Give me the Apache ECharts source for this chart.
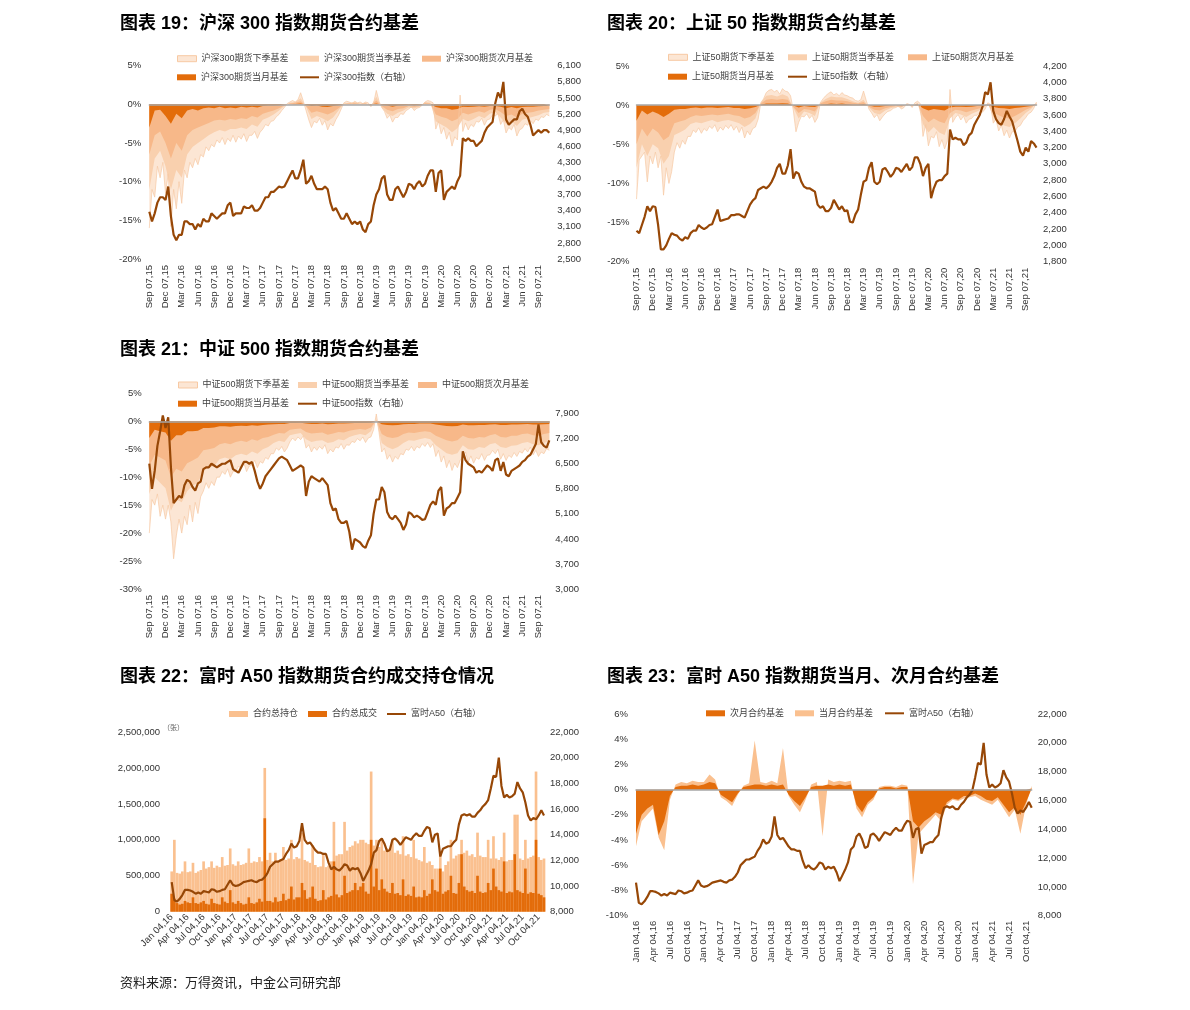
<!DOCTYPE html>
<html><head><meta charset="utf-8">
<script src="https://cdn.jsdelivr.net/npm/echarts/dist/echarts.min.js"></script>
<style>html,body{margin:0;padding:0;background:#fff}#c{width:1190px;height:1010px}</style>
</head><body><div id="c"></div>
<script>
// ---------- DATA ----------
// Chart 19: CSI 300 (basis %, Sep 2015 - Nov 2021). q2 & index semi-monthly; others monthly
const hs_q2 = [-16,-11,-12,-8,-9.5,-7.5,-11.5,-9,
-15.8,-11,-13.5,-10,-12.8,-8.5,-9.5,-7.5,-8.2,-7,-7.8,-6.5,-6.8,-5.5,-6,-5.2,-5.5,-4.6,-5,-4.3,-5.2,-4.4,-4.8,-4,
-4.9,-4.1,-4.5,-3.8,-4.8,-4,-4,-3.5,-4.4,-3.6,-3.2,-2.6,-2.8,-2.2,-2.1,-1.6,-1.3,-0.8,-0.4,0.1,0.3,0.5,0.3,0.6,
1.5,0.4,-0.8,-2,-3,-2.2,-2.4,-1.8,-2.7,-2.1,-3.3,-2.5,-2.8,-2,-1.4,-0.6,0.2,0.4,0.3,0.1,0.4,0.2,0.3,0.1,
0.3,0.2,-0.3,0.2,1.8,0.4,-0.4,-0.9,-1.8,-1.4,-2.3,-1.7,-1.7,-1.2,-1.3,-0.8,-0.6,-0.3,-0.8,-0.5,-0.4,-0.1,0.3,0.5,
0.4,0.2,-3.2,-2.2,-3.8,-3,-4.5,-3.6,-5.4,-4.2,-4.6,1.2,-3.5,-2.4,-3.3,-2.6,-2.9,-2.2,-2.3,-1.8,-2.7,-2,-1.9,-1.4,
-1.5,-1.2,-2.6,-2,-3.7,-3,-3.3,-2.6,-4.1,-3.3,-3.1,-2.5,-2.7,-2.1,-2.5,-1.9,-2.1,-1.6,-1.7,-1.3,-1.5];
const hs_q1 = [-11,-7,-6,-8,-11,-8.5,-9.5,-6.5,-5.5,-5,-4.5,-4,-3.6,-3.3,-3.5,-3.2,-3.2,-3,-3.2,-2.6,-2.9,-2,-1.7,-1.3,-0.8,-0.2,0.2,0.3,0.8,-0.3,-1.9,-1.5,-1.8,-2.2,-1.7,-0.8,0.1,0.2,0.3,0.1,0.2,-0.2,1,-0.4,-1.2,-1.5,-1.1,-0.8,-0.4,-0.5,-0.3,0.3,0.2,-2.2,-2.6,-3,-3.6,-3.1,-1.9,-2.2,-1.9,-1.5,-1.8,-1.2,-1,-1.7,-2.5,-2.2,-2.8,-2,-1.8,-1.6,-1.4,-1.1,-1];
const hs_m1 = [-6.5,-4,-3.5,-5,-7,-5,-6,-4,-3.3,-3,-2.7,-2.4,-2.1,-2,-2.1,-1.9,-2,-1.8,-1.9,-1.5,-1.7,-1.2,-1,-0.8,-0.5,-0.1,0.1,0.2,0.4,-0.2,-1.1,-0.9,-1.1,-1.3,-1,-0.5,0.05,0.1,0.15,0.05,0.1,-0.1,0.5,-0.2,-0.7,-0.9,-0.6,-0.5,-0.2,-0.3,-0.2,0.15,0.1,-1.3,-1.6,-1.8,-2.2,-1.9,-1.1,-1.3,-1.1,-0.9,-1.1,-0.7,-0.6,-1,-1.5,-1.3,-1.7,-1.2,-1.1,-1,-0.8,-0.7,-0.6];
const hs_m0 = [-3,-0.8,-0.7,-1.5,-2.5,-1.2,-1.8,-0.8,-0.6,-0.8,-0.5,-0.4,-0.5,-0.3,-0.5,-0.4,-0.5,-0.3,-0.4,-0.3,-0.4,-0.2,-0.15,-0.15,-0.1,0,0.03,0.05,0.1,-0.05,-0.2,-0.15,-0.3,-0.35,-0.2,-0.1,0,0.03,0.03,0,0.03,-0.03,0.1,-0.05,-0.15,-0.3,-0.15,-0.1,-0.05,-0.1,-0.05,0.03,0.03,-0.35,-0.5,-0.5,-0.7,-0.6,-0.3,-0.35,-0.3,-0.25,-0.3,-0.2,-0.2,-0.3,-0.5,-0.35,-0.5,-0.35,-0.3,-0.3,-0.25,-0.2,-0.2];
const hs_idx = [3380,3200,3350,3550,3650,3650,3600,3850,
3300,2950,2850,2950,2950,3200,3200,3150,3150,3050,3150,3100,3250,3200,3200,3350,3300,3250,3300,3350,3350,3500,3550,3300,
3350,3350,3350,3480,3450,3450,3500,3400,3400,3450,3550,3650,3650,3750,3750,3800,3850,3830,3850,3950,4050,4150,4000,4000,
4150,4350,3900,3950,4050,3900,3800,3800,3800,3850,3800,3550,3400,3450,3350,3250,3250,3350,3250,3150,3200,3150,3200,3050,
3000,3150,3200,3500,3700,3800,4000,4050,3700,3600,3600,3800,3850,3750,3650,3750,3900,3880,3800,3900,3950,3850,3900,4050,
4150,4150,3750,4100,4150,3600,3750,3800,3850,3800,3950,4050,4750,4700,4750,4700,4700,4600,4650,4700,4850,4950,5000,5050,
5400,5600,5500,5800,5100,5000,5050,5100,5100,5250,5300,5200,5150,5000,4800,4850,4900,4850,4900,4900,4850];

// Chart 20: SSE 50
const sz_q2 = [-12,-7,-6.5,-6,-9.8,-6.5,-7.5,-6,
-8,-6.5,-11.5,-8,-10,-8.5,-6,-4.8,-5.5,-4.5,-5,-4,-4,-3.2,-3.5,-2.9,-3.6,-3,-3.3,-2.7,-3,-2.5,-3.4,-2.8,
-3.2,-2.6,-3,-2.5,-3.2,-2.7,-3.5,-2.8,-4.2,-3.3,-3.8,-3,-2.8,-1.8,0.3,0.8,1.6,1.9,2,1.7,1.9,1.4,2.1,1.8,
1.7,1.2,-0.6,-3.4,-2.2,-1.4,-1.5,-1.1,-1.7,-1.3,-2.2,-1.6,0.3,0.8,1.2,1.5,1.7,1.3,1.5,1.2,1.6,1.3,1.2,1,
0.9,0.6,0.5,0.7,1.8,0.6,-0.5,-1,-1.6,-1.2,-2,-1.5,-1.1,-0.8,-0.7,-0.4,-0.3,-0.1,-0.5,-0.3,0.2,0.1,-0.3,0.3,
0.5,0.2,-4,-2.5,-5.2,-4,-4.2,-3.4,-5.3,-4.4,-5.6,-4.6,2,-2.2,-1.6,-1.2,-1.9,-1.4,-2.3,-1.8,-1.7,-1.3,-1.3,-0.9,
-0.9,-0.5,0.3,0.1,-2.3,-1.8,-3.3,-2.6,-3.9,-3.2,-4.2,-3.4,-3.4,-2.8,-2.6,-2,-1.6,-1.1,-0.9,-0.4,0.4];
const sz_q1 = [-8,-5,-6.5,-5,-5.5,-7.5,-6.5,-3.8,-3.5,-3.1,-2.4,-2.2,-2.3,-2.1,-1.9,-2.2,-2,-1.9,-2.1,-2.3,-2.8,-2.4,-1.7,0.3,1.2,1.3,1.1,1.4,1.1,-0.3,-1.7,-0.8,-1,-1.4,0.3,0.8,1.1,1,1,0.8,0.5,0.3,0.7,-0.3,-1,-1.2,-0.7,-0.4,-0.2,-0.3,0.1,-0.2,0.3,-2.4,-3.5,-2.8,-3.5,-3.8,-1.7,-1,-1.2,-1.5,-1.1,-0.8,-0.5,0.2,-1.5,-2.2,-2.6,-2.8,-2.3,-1.7,-1,-0.5,0.3];
const sz_m1 = [-5,-3,-4,-3,-3.5,-4.5,-4,-2.3,-2.1,-1.9,-1.5,-1.3,-1.4,-1.3,-1.2,-1.3,-1.2,-1.1,-1.3,-1.4,-1.7,-1.5,-1,0.2,0.7,0.8,0.7,0.8,0.7,-0.2,-1,-0.5,-0.6,-0.8,0.2,0.5,0.7,0.6,0.6,0.5,0.3,0.2,0.4,-0.2,-0.6,-0.7,-0.4,-0.25,-0.1,-0.2,0.05,-0.1,0.2,-1.4,-2.2,-1.7,-2.1,-2.3,-1,-0.6,-0.7,-0.9,-0.7,-0.5,-0.3,0.1,-0.9,-1.3,-1.6,-1.7,-1.4,-1,-0.6,-0.3,0.2];
const sz_m0 = [-2,-0.7,-1.2,-0.8,-1.1,-1.5,-1.1,-0.6,-0.5,-0.5,-0.35,-0.3,-0.4,-0.3,-0.3,-0.35,-0.3,-0.25,-0.35,-0.35,-0.5,-0.4,-0.25,0.05,0.2,0.2,0.2,0.25,0.2,-0.05,-0.3,-0.1,-0.2,-0.25,0.05,0.1,0.2,0.15,0.2,0.1,0.05,0.05,0.1,-0.05,-0.2,-0.2,-0.1,-0.05,0,-0.05,0,0,0.05,-0.4,-0.7,-0.5,-0.6,-0.7,-0.3,-0.2,-0.2,-0.25,-0.2,-0.1,-0.1,0.03,-0.25,-0.35,-0.4,-0.5,-0.35,-0.3,-0.2,-0.1,0.05];
const sz_idx = [2180,2150,2250,2350,2480,2420,2480,2470,
2250,1950,1950,2000,2080,2150,2130,2120,2080,2060,2100,2080,2150,2180,2180,2250,2220,2200,2220,2250,2260,2350,2440,2300,
2310,2320,2330,2370,2370,2380,2380,2360,2340,2420,2500,2550,2580,2680,2700,2720,2700,2730,2780,2850,2950,3000,2880,2880,
2980,3180,2820,2900,2880,2780,2720,2700,2700,2680,2660,2500,2460,2480,2420,2420,2460,2560,2500,2440,2480,2420,2430,2290,
2280,2380,2440,2620,2780,2800,2950,3020,2780,2750,2780,2930,2950,2900,2840,2880,2950,2940,2900,2950,3000,2920,2960,3080,
3080,3000,2850,2950,3000,2580,2700,2780,2800,2800,2850,2880,3420,3300,3320,3300,3300,3230,3260,3350,3380,3480,3540,3600,
3700,3880,3850,4000,3650,3550,3500,3480,3550,3650,3580,3520,3400,3280,3150,3100,3200,3150,3280,3250,3200];

// Chart 21: CSI 500
const zz_q2 = [-20,-14,-15,-13,-17,-15,-17.5,-15,
-18,-24.6,-20.5,-17.5,-20,-17,-18.5,-15,-18,-14.5,-16.5,-13.5,-12.5,-11,-12,-10.8,-11.5,-10,-10,-9,-9.5,-8.5,-10,-9,
-9,-8,-8.5,-7.5,-9,-8,-7.8,-7,-8.3,-7.2,-7.5,-6.5,-6.8,-5.8,-5.8,-4.8,-5.2,-4.5,-5.5,-4.8,-3.7,-3,-3.5,-2.8,
-3.3,-2.6,-4.8,-4.2,-5.5,-4.6,-5.2,-4.5,-5,-4.2,-5.8,-5,-5.5,-4.6,-4.8,-4,-5,-4.2,-4.3,-3.6,-3.8,-3.1,-3.5,-2.8,
-3.8,-3,-2.8,-1.5,1.3,-2,-5.5,-4.8,-6.8,-6,-7.3,-6.3,-6.8,-5.8,-6,-5,-5.2,-4.5,-5.3,-4.5,-4.8,-4,-4.5,-3.8,
-4.7,-4,-6.3,-5.2,-7.3,-6.2,-8.3,-7,-8.8,-7.5,-8.3,-7,-6.3,-5.5,-7.3,-6.2,-7.5,-6.5,-6.8,-5.8,-7,-6.1,-6,-5.2,
-5.8,-5,-6.8,-5.8,-7,-6.1,-6.5,-5.6,-6.3,-5.4,-5.7,-4.9,-5.5,-4.6,-6,-5.2,-6.3,-5.5,-5.8,-4.9,-5.2];
const zz_q1 = [-13,-10,-11,-12,-16,-14,-14.5,-12.5,-11.5,-11,-8.8,-8.3,-8,-6.8,-6.5,-6.8,-6.1,-5.8,-6.1,-5.4,-5.8,-5,-4.6,-3.9,-3.5,-3.7,-2.5,-2.3,-2.1,-3.2,-3.7,-3.5,-3.4,-3.9,-3.7,-3.2,-3.4,-2.8,-2.5,-2.3,-2.5,-1.8,0.3,-3.9,-4.6,-5,-4.6,-3.9,-3.4,-3.5,-3.2,-3,-3.2,-4.3,-5,-5.7,-6,-5.7,-4.3,-5,-5.1,-4.6,-4.8,-4.1,-3.9,-4.6,-4.8,-4.4,-4.3,-3.9,-3.7,-4.1,-4.3,-3.9,-3.5];
const zz_m1 = [-8,-6,-6.5,-7,-10,-8.5,-9,-7.5,-7,-6.5,-5.2,-5,-4.8,-4.1,-3.9,-4.1,-3.7,-3.5,-3.7,-3.2,-3.5,-3,-2.8,-2.4,-2.1,-2.2,-1.5,-1.4,-1.3,-1.9,-2.2,-2.1,-2,-2.4,-2.2,-1.9,-2,-1.7,-1.5,-1.4,-1.5,-1.1,0.2,-2.3,-2.8,-3,-2.8,-2.3,-2,-2.1,-1.9,-1.8,-1.9,-2.6,-3,-3.4,-3.6,-3.4,-2.6,-3,-3.1,-2.8,-2.9,-2.5,-2.3,-2.8,-2.9,-2.6,-2.6,-2.3,-2.2,-2.5,-2.6,-2.3,-2.1];
const zz_m0 = [-3,-1.5,-1.8,-2,-3.5,-2.5,-2.5,-1.8,-1.8,-1.7,-1.2,-1.2,-1.1,-0.9,-0.9,-1,-0.85,-0.8,-0.85,-0.7,-0.8,-0.65,-0.6,-0.55,-0.5,-0.5,-0.3,-0.3,-0.25,-0.4,-0.5,-0.5,-0.4,-0.55,-0.5,-0.4,-0.4,-0.35,-0.3,-0.3,-0.3,-0.25,0.05,-0.55,-0.65,-0.7,-0.65,-0.55,-0.5,-0.5,-0.4,-0.4,-0.4,-0.6,-0.7,-0.85,-0.9,-0.85,-0.6,-0.7,-0.7,-0.65,-0.65,-0.6,-0.55,-0.65,-0.65,-0.6,-0.6,-0.55,-0.5,-0.6,-0.6,-0.55,-0.5];
const zz_idx = [6500,5800,6300,7000,7400,7850,7500,7800,
6400,5400,5500,5600,5550,5900,6050,6000,5850,5750,5950,6000,6350,6400,6400,6500,6450,6400,6450,6500,6500,6550,6600,6350,
6300,6250,6400,6550,6550,6500,6550,6300,6000,5800,5950,6150,6250,6350,6450,6550,6650,6700,6650,6600,6450,6300,6350,6400,
6450,6400,5600,6000,6150,6100,6050,6000,6100,6000,5900,5400,5200,5250,4950,4850,4850,4900,4600,4100,4400,4350,4300,4200,
4150,4350,4500,5100,5500,5500,5850,5700,5150,5000,4950,5050,4950,4850,4650,4800,5150,5100,5000,5050,5000,4930,4950,5150,
5350,5450,5350,5750,5850,5050,5250,5300,5400,5400,5550,5700,6850,6600,6500,6450,6400,6250,6300,6250,6350,6450,6400,6300,
6600,6650,6300,6550,6200,6150,6300,6350,6400,6450,6550,6600,6700,6750,6900,7050,7600,7100,7000,6950,7150];

// Chart 22 / 23: FTSE China A50 (semi-monthly, Jan 2016 - Nov 2021)
const a50_idx = [10300,8900,8800,9000,9300,9700,9700,9650,9550,9400,9500,9400,9600,9550,9500,9750,9700,9550,9600,9700,9750,10100,10450,10100,
10000,10050,10150,10300,10350,10400,10450,10350,10300,10450,10500,10700,11000,11500,11700,11900,11900,12000,12100,12500,12800,13300,13000,13100,
13500,14900,13600,13300,13400,13100,12800,12600,12600,12500,12500,11800,11300,11500,11300,11200,11400,11700,11600,11200,11400,11300,11400,11000,
10400,10800,11200,11700,12600,12800,13500,13700,13300,12700,12800,13600,13700,13500,13200,13500,13800,13700,13600,13900,14100,13900,13900,14300,
14600,14500,13400,14000,14100,12300,12900,13000,13100,13100,13400,13600,14800,15500,15600,15500,15600,15400,15400,15700,15900,16200,16400,16700,
17600,18600,18500,20000,17800,16900,17100,16900,17000,17200,18100,17600,17300,16500,15500,15100,15300,15200,15500,15900,15500];
// open interest & volume (contracts, thousands)
const a50_oi = [560,1000,540,530,560,700,550,560,680,540,560,580,700,600,620,700,610,640,620,760,640,650,880,660,
640,700,650,660,680,880,680,700,690,760,700,2000,720,820,700,820,710,730,900,720,740,1000,730,760,
740,1100,720,700,680,920,650,620,630,800,620,640,700,1250,780,800,800,1250,850,900,920,980,950,1000,
1000,960,940,1950,920,1000,900,1000,850,880,850,1000,820,850,800,1050,780,800,760,1000,740,720,700,900,
680,700,650,600,600,800,560,650,700,1000,740,780,800,1000,820,850,780,800,760,1100,780,760,760,1000,
740,1050,740,720,760,1100,700,720,720,1350,1350,740,720,1000,740,760,780,1950,760,720,740];
const a50_vol = [250,180,120,100,110,150,130,120,200,120,110,130,150,110,100,180,120,110,100,200,140,120,300,130,
110,150,120,100,110,200,120,110,130,180,140,1300,150,150,130,200,140,150,250,160,180,350,170,200,
200,400,300,180,200,350,180,150,160,300,170,200,220,700,240,200,230,500,260,280,300,400,300,350,
400,280,250,1000,350,600,300,450,320,280,260,400,250,260,230,450,220,240,220,350,200,210,200,300,
220,250,450,300,280,600,250,280,300,500,260,250,400,800,350,300,280,290,260,500,280,260,270,400,
300,600,350,300,280,700,260,280,270,800,300,280,260,600,250,270,260,1000,250,230,200];
// monthly basis % (Jan 2016 - Nov 2021)
const a50_next = [-3.5,-2,-1.5,-1.2,-3.6,-2.5,-0.5,0.2,0.3,0.3,0.4,0.3,
0.4,0.6,0.5,-0.4,-0.7,-1,-0.3,0.2,0.3,0.4,0.4,0.3,
0.4,0.3,0.4,-0.4,-0.9,-1.3,-0.6,0.2,0.3,0.3,0.4,0.3,
0.4,0.3,0.4,-1.2,-1.8,-1,-0.6,0.1,0.2,0.2,0.1,0.2,
0.2,-2.5,-3,-2.5,-2.2,-1.8,-2,-1,-0.7,-0.8,-0.5,-0.5,
-0.3,-0.5,-0.8,-0.9,-0.6,-1.2,-1.8,-1.4,-2,-1,0.1];
const a50_cur = [-4.5,-2.5,-2,-1.5,-3.8,-4.8,-0.8,0.4,0.6,0.5,0.7,0.6,
0.6,1.2,0.8,-0.6,-0.9,-1.3,-0.4,0.3,0.5,3.9,0.6,0.5,
0.7,0.5,3.3,-0.5,-1.2,-1.8,-0.8,0.4,0.6,-3.7,0.8,0.6,
0.7,0.6,0.7,-1.5,-2.2,-1.2,-0.8,0.2,0.3,0.3,0.2,0.4,
0.3,-7.5,-3.5,-3,-2.5,-2,-2.5,-1.2,-0.8,-0.9,-0.7,-0.6,
-0.5,-0.8,-1,-1.2,-0.8,-1.5,-2.2,-1.6,-3.5,-1.2,0.3];

// ---------- HELPERS ----------
const MONTHS=['Jan','Feb','Mar','Apr','May','Jun','Jul','Aug','Sep','Oct','Nov','Dec'];
function dateCats(y0,m0,days,n){const out=[];for(let i=0;i<n;i++){const k=Math.floor(i/days.length);const mm=(m0+k)%12;const yy=y0+Math.floor((m0+k)/12);out.push(MONTHS[mm]+' '+days[i%days.length]+','+String(yy%100).padStart(2,'0'));}return out;}
const catA = dateCats(2015,8,['07','22'],hs_idx.length);
const monA = dateCats(2015,8,['07'],hs_q1.length);
const catB = dateCats(2016,0,['04','19'],a50_idx.length);
const monB = dateCats(2016,0,['04'],a50_cur.length);

const FONT = 'Arial, "Liberation Sans", "Noto Sans CJK SC", sans-serif';
const C_Q2='#FCE6D4', C_Q2B='#F7C9A3', C_Q1='#F9D0AE', C_M1='#F7B889', C_M0='#E36C0A', C_IDX='#974706', C_LIGHT='#FAC08F';
const comma = v => Math.round(v).toLocaleString('en-US');

const grids=[
 {left:149.3,top:65.7,width:400,height:193.3},
 {left:636.5,top:66,width:400,height:195.7},
 {left:149.3,top:393.3,width:400,height:195.7},
 {left:171.7,top:732,width:372.3,height:179.7},
 {left:636,top:714,width:395.7,height:201.7}
];
const xAxes=[], yAxes=[], series=[], legends=[];
function addX(gi, semi, mon, rotate, margin, zeroLine){
 xAxes.push({type:'category',gridIndex:gi,data:semi,boundaryGap:false,position:'bottom',
   axisLine:{show:false,onZero:false},axisTick:{show:false},splitLine:{show:false},
   axisLabel:{interval:5,rotate:rotate,fontSize:9.5,color:'#333',margin:margin,fontFamily:FONT}});
 xAxes.push({type:'category',gridIndex:gi,data:mon,boundaryGap:false,position:'top',show:zeroLine,z:10,
   axisLine:{show:zeroLine,onZero:true,lineStyle:{color:'#A6A6A6',width:1.5}},axisTick:{show:false},axisLabel:{show:false},splitLine:{show:false}});
}
function addY(gi, L, R, lf, rf, lm, rm){
 const base={type:'value',gridIndex:gi,axisLine:{show:false},axisTick:{show:false},splitLine:{show:false}};
 yAxes.push(Object.assign({},base,{position:'left',min:L[0],max:L[1],interval:L[2],axisLabel:{formatter:lf,fontSize:9.5,color:'#333',margin:lm,fontFamily:FONT}}));
 yAxes.push(Object.assign({},base,{position:'right',min:R[0],max:R[1],interval:R[2],axisLabel:{formatter:rf,fontSize:9.5,color:'#333',margin:rm,fontFamily:FONT}}));
}
// semi=true -> data on semi-monthly axis, else monthly axis
function area(name, data, gi, color, border, semi){
 series.push({name,type:'line',data,xAxisIndex:semi?2*gi:2*gi+1,yAxisIndex:2*gi,showSymbol:false,symbol:'none',z:2,silent:true,
   itemStyle:{color},lineStyle:{width:border?0.7:0,color:border||color},areaStyle:{color,opacity:1}});
}
function idxLine(name, data, gi){
 series.push({name,type:'line',data,xAxisIndex:2*gi,yAxisIndex:2*gi+1,showSymbol:false,symbol:'none',z:5,silent:true,
   itemStyle:{color:C_IDX},lineStyle:{width:2.2,color:C_IDX}});
}
function leg(name,x,yc,color,kind,border){
 legends.push({show:true,data:[{name,icon:'rect',itemStyle:border?{color,borderColor:border,borderWidth:1}:{color}}],
   left:x,top:yc-6,itemWidth:19,itemHeight:kind==='line'?2:6,itemGap:0,padding:0,selectedMode:false,
   textStyle:{fontSize:9,color:'#404040',fontFamily:FONT,lineHeight:12}});
}
const pct = v => v+'%';

// Chart 19
addX(0,catA,monA,90,6,true);
addY(0,[-20,5,5],[2500,6100,300],pct,comma,8,8);
area('沪深300期货下季基差',hs_q2,0,C_Q2,C_Q2B,true);
area('沪深300期货当季基差',hs_q1,0,C_Q1);
area('沪深300期货次月基差',hs_m1,0,C_M1);
area('沪深300期货当月基差',hs_m0,0,C_M0);
idxLine('沪深300指数（右轴）',hs_idx,0);
leg('沪深300期货下季基差',177,58.7,C_Q2,'area',C_Q2B);
leg('沪深300期货当季基差',300,58.7,C_Q1,'area');
leg('沪深300期货次月基差',422,58.7,C_M1,'area');
leg('沪深300期货当月基差',177,77.3,C_M0,'area');
leg('沪深300指数（右轴）',300,77.3,C_IDX,'line');

// Chart 20
addX(1,catA,monA,90,6,true);
addY(1,[-20,5,5],[1800,4200,200],pct,comma,7,6.5);
area('上证50期货下季基差',sz_q2,1,C_Q2,C_Q2B,true);
area('上证50期货当季基差',sz_q1,1,C_Q1);
area('上证50期货次月基差',sz_m1,1,C_M1);
area('上证50期货当月基差',sz_m0,1,C_M0);
idxLine('上证50指数（右轴）',sz_idx,1);
leg('上证50期货下季基差',668,57.3,C_Q2,'area',C_Q2B);
leg('上证50期货当季基差',788,57.3,C_Q1,'area');
leg('上证50期货次月基差',908,57.3,C_M1,'area');
leg('上证50期货当月基差',668,76.7,C_M0,'area');
leg('上证50指数（右轴）',788,76.7,C_IDX,'line');

// Chart 21
addX(2,catA,monA,90,6,true);
addY(2,[-30,5,5],[3000,8468,700],pct,v=>((v-3000)%700===0?comma(v):''),7.6,6);
area('中证500期货下季基差',zz_q2,2,C_Q2,C_Q2B,true);
area('中证500期货当季基差',zz_q1,2,C_Q1);
area('中证500期货次月基差',zz_m1,2,C_M1);
area('中证500期货当月基差',zz_m0,2,C_M0);
idxLine('中证500指数（右轴）',zz_idx,2);
leg('中证500期货下季基差',178,385,C_Q2,'area',C_Q2B);
leg('中证500期货当季基差',298,385,C_Q1,'area');
leg('中证500期货次月基差',418,385,C_M1,'area');
leg('中证500期货当月基差',178,403.7,C_M0,'area');
leg('中证500指数（右轴）',298,403.7,C_IDX,'line');

// Chart 22
addX(3,catB,monB,45,4,false);
addY(3,[0,2500000,500000],[8000,22000,2000],comma,comma,11.7,6);
series.push({name:'合约总持仓',type:'bar',data:a50_oi.map(v=>v*1000),xAxisIndex:6,yAxisIndex:6,barWidth:'100%',barGap:'-100%',barCategoryGap:'0%',z:2,silent:true,itemStyle:{color:C_LIGHT}});
series.push({name:'合约总成交',type:'bar',data:a50_vol.map(v=>v*1000),xAxisIndex:6,yAxisIndex:6,barWidth:'100%',barGap:'-100%',barCategoryGap:'0%',z:3,silent:true,itemStyle:{color:C_M0}});
idxLine('富时A50（右轴）',a50_idx,3);
leg('合约总持仓',229,714,C_LIGHT,'area');
leg('合约总成交',308,714,C_M0,'area');
leg('富时A50（右轴）',387,714,C_IDX,'line');

// Chart 23
addX(4,catB,monB,90,5,true);
addY(4,[-10,6,2],[8000,22000,2000],pct,comma,8,6);
area('当月合约基差',a50_cur,4,C_LIGHT);
area('次月合约基差',a50_next,4,C_M0);
idxLine('富时A50（右轴）',a50_idx,4);
leg('次月合约基差',706,713.3,C_M0,'area');
leg('当月合约基差',795,713.3,C_LIGHT,'area');
leg('富时A50（右轴）',885,713.3,C_IDX,'line');

const tStyle={fontSize:18,fontWeight:'bold',color:'#000',fontFamily:FONT,lineHeight:22};
const option={
 animation:false,
 backgroundColor:'#fff',
 title:[
  {text:'图表 19：沪深 300 指数期货合约基差',left:120,top:13,padding:0,textStyle:tStyle},
  {text:'图表 20：上证 50 指数期货合约基差',left:607,top:13,padding:0,textStyle:tStyle},
  {text:'图表 21：中证 500 指数期货合约基差',left:120,top:339,padding:0,textStyle:tStyle},
  {text:'图表 22：富时 A50 指数期货合约成交持仓情况',left:120,top:666,padding:0,textStyle:tStyle},
  {text:'图表 23：富时 A50 指数期货当月、次月合约基差',left:607,top:666,padding:0,textStyle:tStyle},
  {text:'资料来源：万得资讯，中金公司研究部',left:120,top:975,padding:0,textStyle:{fontSize:13,fontWeight:'normal',color:'#222',fontFamily:FONT,lineHeight:16}}
 ],
 grid:grids.map(g=>Object.assign({containLabel:false,outerBoundsMode:'none'},g)),
 xAxis:xAxes, yAxis:yAxes, legend:legends, series:series,
 graphic:[{type:'text',x:163,y:724,style:{text:'（张）',font:'7px "Noto Sans CJK SC"',fill:'#595959'}}]
};
const chart=echarts.init(document.getElementById('c'),null,{renderer:'canvas'});
chart.setOption(option);
</script></body></html>
